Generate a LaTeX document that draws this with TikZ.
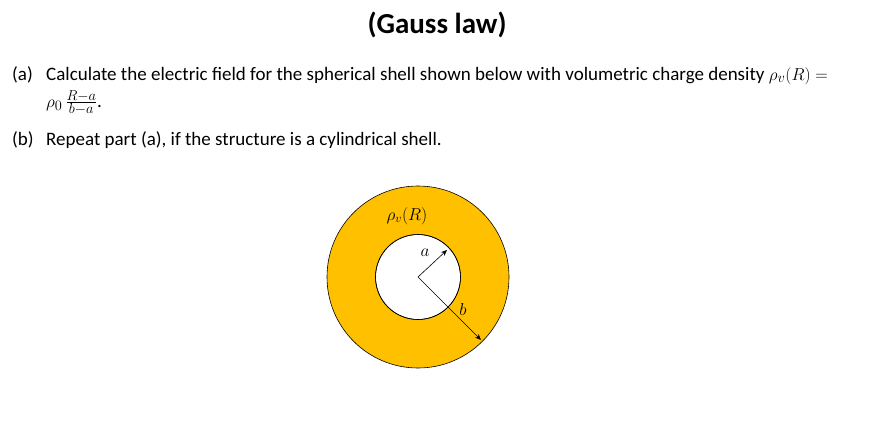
\documentclass[tikz,border=0pt]{standalone}
\usepackage{fontspec}
\setmainfont{Carlito}
\usetikzlibrary{arrows.meta}
\definecolor{gold}{HTML}{FFC000}
\tikzset{txt/.style={anchor=base west,inner sep=0pt,font=\fontsize{19}{22}\selectfont},
 lbl/.style={font=\fontsize{17}{20}\selectfont},
 arr/.style={-{Stealth[length=6pt,width=5pt]},line width=0.6pt}}
\begin{document}
\begin{tikzpicture}[x=1pt,y=-1pt]
\useasboundingbox (0,0) rectangle (876,431);
\node[inner sep=0pt,font=\fontsize{29}{33}\selectfont\bfseries] (title) at (437,25) {(Gauss law)};
\node[txt] (la) at (12,80) {(a)};
\node[txt] (ta) at (46,80) {Calculate the electric field for the spherical shell shown below with volumetric charge density $\rho_v(R)=$};
\node[txt] (ta2) at (46,107) {$\rho_0\,\frac{R-a}{b-a}$.};
\node[txt] (lb) at (12,145) {(b)};
\node[txt] (tb) at (46,145) {Repeat part (a), if the structure is a cylindrical shell.};
\coordinate (c) at (418,277);
\fill[gold,draw=black,line width=0.6pt,even odd rule] (c) circle (91) (c) circle (42.5);
\draw[line width=0.6pt] (c) circle (42.5);
\coordinate (pa) at (447,250);
\coordinate (pb) at (481,340);
\draw[arr] (c) -- (pa);
\draw[arr] (c) -- (pb);
\node[lbl] (rho) at (407,216) {$\rho_v(R)$};
\node[lbl] (la2) at (425,253) {$a$};
\node[lbl] (lb2) at (463,309) {$b$};
\end{tikzpicture}
\end{document}
